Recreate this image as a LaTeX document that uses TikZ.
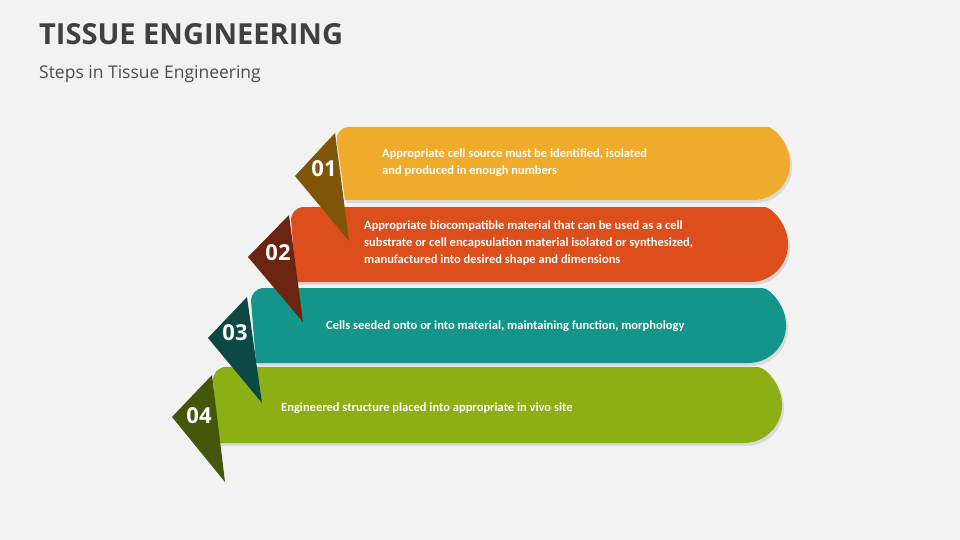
\documentclass[tikz,border=0pt]{standalone}
\usepackage{fontspec}
\setmainfont{Carlito}
\newfontfamily\titlefont{Open Sans}
\begin{document}
\begin{tikzpicture}[x=1pt,y=-1pt]
\definecolor{bg}{HTML}{F2F2F2}
\definecolor{cA}{HTML}{EFAB2C}\definecolor{tA}{HTML}{7F5609}
\definecolor{cB}{HTML}{DC4E1C}\definecolor{tB}{HTML}{6B2410}
\definecolor{cC}{HTML}{13958A}\definecolor{tC}{HTML}{0C4944}
\definecolor{cD}{HTML}{8BAF15}\definecolor{tD}{HTML}{43560A}
\tikzset{lbl/.style={text=white,font=\bfseries\fontsize{12.5}{17}\selectfont,align=left,anchor=west,inner sep=0pt},
num/.style={text=white,font=\titlefont\bfseries\fontsize{22}{22}\selectfont}}
\fill[bg] (0,0) rectangle (960,540);
\useasboundingbox (0,0) rectangle (960,540);
\node[anchor=west,font=\titlefont\bfseries\fontsize{29}{29}\selectfont,text=black!75,inner sep=0pt] (title) at (39,34) {TISSUE ENGINEERING};
\node[anchor=west,font=\titlefont\fontsize{17.5}{17.5}\selectfont,text=black!70,inner sep=0pt] (sub) at (39,74) {Steps in Tissue Engineering};
\foreach \lt/\lb/\tp/\bt/\r/\c in {212/218/367/443/782/cD, 250/256/288/363/786/cC, 290/296/207/282/788/cB, 335/345/127/200/790/cA}{
 \pgfmathsetmacro\h{(\bt-\tp)/2}
 \fill[black!15] (\lb+2,\bt+3) [rounded corners=14pt]-- (\lt+2,\tp+3) -- (\r+2-\h,\tp+3) [sharp corners] arc[start angle=-90,end angle=90,radius=\h] -- cycle;
 \fill[\c] (\lb,\bt) [rounded corners=14pt]-- (\lt,\tp) -- (\r-\h,\tp) [sharp corners] arc[start angle=-90,end angle=90,radius=\h] -- cycle;
}
\fill[tA] (335,133) -- (295,176) -- (349,241) -- cycle;
\fill[tB] (289,215) -- (248,257) -- (303,322) -- cycle;
\fill[tC] (247,297) -- (208,338) -- (262,403) -- cycle;
\fill[tD] (212,375) -- (172,417) -- (225,482) -- cycle;
\node[num] (n1) at (324,169) {01};
\node[num] (n2) at (278,253) {02};
\node[num] (n3) at (235,333) {03};
\node[num] (n4) at (199,416) {04};
\node[lbl] (t1) at (382,163) {Appropriate cell source must be identified, isolated\\and produced in enough numbers};
\node[lbl] (t2) at (364,243) {Appropriate biocompatible material that can be used as a cell\\substrate or cell encapsulation material isolated or synthesized,\\manufactured into desired shape and dimensions};
\node[lbl] (t3) at (326,326) {Cells seeded onto or into material, maintaining function, morphology};
\node[lbl] (t4) at (281,408) {Engineered structure placed into appropriate in vivo site};
\end{tikzpicture}
\end{document}
